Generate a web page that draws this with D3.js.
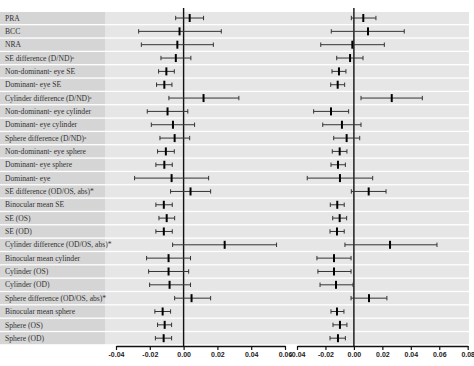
<!DOCTYPE html>
<html>
<head>
<meta charset="utf-8">
<script src="https://cdn.jsdelivr.net/npm/d3@7"></script>
<style>
  body { margin: 0; background: #fff; }
  svg { display: block; }
</style>
</head>
<body>
<svg width="474" height="366"></svg>
<script>
// row labels, top to bottom
let labels = [
    "PRA", "BCC", "NRA",
    "SE difference (D/ND)ᵃ", "Non-dominant- eye SE", "Dominant- eye SE",
    "Cylinder difference (D/ND)ᵃ", "Non-dominant- eye cylinder", "Dominant- eye cylinder",
    "Sphere difference (D/ND)ᵃ", "Non-dominant- eye sphere", "Dominant- eye sphere",
    "Dominant- eye",
    "SE difference (OD/OS, abs)*", "Binocular mean SE", "SE (OS)", "SE (OD)",
    "Cylinder difference (OD/OS, abs)*", "Binocular mean cylinder", "Cylinder (OS)", "Cylinder (OD)",
    "Sphere difference (OD/OS, abs)*", "Binocular mean sphere", "Sphere (OS)", "Sphere (OD)"
];

// left panel: estimate and 95% CI
let leftMean = [0.0036, -0.0024, -0.0037, -0.0046, -0.0102, -0.0114, 0.0118, -0.0095, -0.0063,
    -0.0053, -0.0105, -0.0114, -0.0071, 0.0041, -0.0117, -0.0100, -0.0117,
    0.0243, -0.0089, -0.0089, -0.0083, 0.0047, -0.0124, -0.0112, -0.0118];
let leftLow = [-0.0047, -0.0266, -0.0250, -0.0134, -0.0148, -0.0160, -0.0087, -0.0215, -0.0191,
    -0.0140, -0.0154, -0.0164, -0.0290, -0.0077, -0.0164, -0.0146, -0.0164,
    -0.0065, -0.0219, -0.0207, -0.0201, -0.0053, -0.0170, -0.0154, -0.0167];
let leftHigh = [0.0118, 0.0223, 0.0176, 0.0043, -0.0055, -0.0069, 0.0327, 0.0025, 0.0065,
    0.0036, -0.0055, -0.0067, 0.0148, 0.0160, -0.0067, -0.0053, -0.0067,
    0.0550, 0.0041, 0.0030, 0.0041, 0.0160, -0.0077, -0.0071, -0.0071];

// right panel: estimate and 95% CI
let rightMean = [0.0066, 0.0099, -0.0011, -0.0027, -0.0105, -0.0114, 0.0266, -0.0161, -0.0084,
    -0.0051, -0.0100, -0.0112, -0.0098, 0.0104, -0.0117, -0.0100, -0.0119,
    0.0254, -0.0140, -0.0140, -0.0126, 0.0106, -0.0119, -0.0098, -0.0112];
let rightLow = [-0.0018, -0.0159, -0.0233, -0.0121, -0.0154, -0.0163, 0.0050, -0.0283, -0.0219,
    -0.0142, -0.0152, -0.0161, -0.0328, -0.0018, -0.0166, -0.0149, -0.0168,
    -0.0063, -0.0260, -0.0253, -0.0238, -0.0020, -0.0161, -0.0147, -0.0168];
let rightHigh = [0.0155, 0.0354, 0.0214, 0.0064, -0.0056, -0.0065, 0.0481, -0.0037, 0.0050,
    0.0041, -0.0049, -0.0060, 0.0132, 0.0226, -0.0068, -0.0051, -0.0068,
    0.0584, -0.0020, -0.0020, -0.0006, 0.0232, -0.0070, -0.0049, -0.0060];

let leftTicks = [-0.04, -0.02, 0.00, 0.02, 0.04, 0.06];
let rightTicks = [-0.04, -0.02, 0.00, 0.02, 0.04, 0.06, 0.08];

let svg = d3.select("svg");
let axisY = 346;

let y = d3.scaleBand()
    .domain(labels)
    .range([12, 345.5])
    .padding(0);
let band = y.bandwidth() - 1.3;

// label column
svg.append("g")
    .selectAll("rect")
    .data(labels)
    .enter().append("rect")
    .attr("x", 0)
    .attr("y", d => y(d))
    .attr("width", 105)
    .attr("height", band)
    .attr("fill", "#d5d5d5");

// plot bands across both panels
svg.append("g")
    .selectAll("rect")
    .data(labels)
    .enter().append("rect")
    .attr("x", 105)
    .attr("y", d => y(d))
    .attr("width", 364)
    .attr("height", band)
    .attr("fill", "#e6e6e6");

svg.append("g")
    .selectAll("text")
    .data(labels)
    .enter().append("text")
    .attr("x", 5)
    .attr("y", d => y(d) + band / 2)
    .attr("dy", "0.35em")
    .attr("font-family", "'Liberation Serif', 'DejaVu Serif', serif")
    .attr("font-size", 7.6)
    .attr("fill", "#333")
    .text(d => d);

function drawPanel(xScale, ticks, mean, low, high) {
    let g = svg.append("g");

    // zero line
    g.append("line")
        .attr("x1", xScale(0)).attr("x2", xScale(0))
        .attr("y1", 8).attr("y2", axisY)
        .attr("stroke", "#111")
        .attr("stroke-width", 1.4);

    let rows = labels.map((l, i) => ({label: l, m: mean[i], lo: low[i], hi: high[i]}));
    let cy = d => y(d.label) + band / 2;

    let bars = g.selectAll("g.bar")
        .data(rows)
        .enter().append("g")
        .attr("class", "bar");

    bars.append("line")
        .attr("x1", d => xScale(d.lo)).attr("x2", d => xScale(d.hi))
        .attr("y1", cy).attr("y2", cy)
        .attr("stroke", "#333").attr("stroke-width", 1);
    bars.append("line")
        .attr("x1", d => xScale(d.lo)).attr("x2", d => xScale(d.lo))
        .attr("y1", d => cy(d) - 2.2).attr("y2", d => cy(d) + 2.2)
        .attr("stroke", "#333").attr("stroke-width", 1);
    bars.append("line")
        .attr("x1", d => xScale(d.hi)).attr("x2", d => xScale(d.hi))
        .attr("y1", d => cy(d) - 2.2).attr("y2", d => cy(d) + 2.2)
        .attr("stroke", "#333").attr("stroke-width", 1);
    bars.append("line")
        .attr("x1", d => xScale(d.m)).attr("x2", d => xScale(d.m))
        .attr("y1", d => cy(d) - 4).attr("y2", d => cy(d) + 4)
        .attr("stroke", "#000").attr("stroke-width", 2);

    let axis = d3.axisBottom(xScale)
        .tickValues(ticks)
        .tickFormat(d => d.toFixed(2))
        .tickSize(4)
        .tickSizeOuter(0);
    let ag = g.append("g")
        .attr("transform", `translate(0,${axisY})`)
        .call(axis);
    ag.select(".domain").attr("stroke", "#111").attr("stroke-width", 1.4);
    ag.selectAll(".tick line").attr("stroke", "#111").attr("stroke-width", 1.2);
    ag.selectAll(".tick text")
        .attr("font-family", "'Liberation Sans', Arial, sans-serif")
        .attr("font-size", 7)
        .attr("font-weight", "bold")
        .attr("fill", "#222")
        .attr("y", 6);
}

let xLeft = d3.scaleLinear().domain([-0.04, 0.06]).range([116, 285]);
let xRight = d3.scaleLinear().domain([-0.04, 0.08]).range([297, 467.7]);

drawPanel(xLeft, leftTicks, leftMean, leftLow, leftHigh);
drawPanel(xRight, rightTicks, rightMean, rightLow, rightHigh);
</script>
</body>
</html>
